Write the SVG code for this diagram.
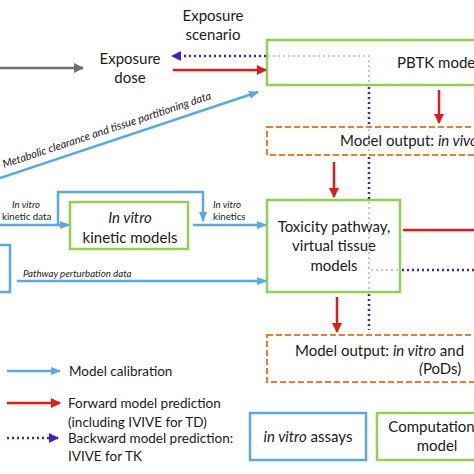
<svg xmlns="http://www.w3.org/2000/svg" width="474" height="474" viewBox="0 0 474 474">
<defs>
<style>
text{font-family:Lato,"Liberation Sans",sans-serif;fill:#1a1a1a}
.t{font-size:15px}
.s{font-size:9.7px;font-style:italic}
.l{font-size:13.5px}
.i{font-style:italic}
.g{fill:#fff;stroke:#92d050;stroke-width:2.5}
.b{fill:#fff;stroke:#5ba8e4;stroke-width:2.5}
.o{fill:#fff;stroke:#ed7d31;stroke-width:2;stroke-dasharray:6 3}
.blu{stroke:#5ba8e4;stroke-width:2.5;fill:none}
.red{stroke:#e31a1c;stroke-width:2.5;fill:none}
.pur{stroke:#4020c8;stroke-width:2.5;fill:none;stroke-dasharray:2 3}
.lp{stroke:#cdbff0;stroke-width:2;fill:none;stroke-dasharray:2 3}
.gry{stroke:#6e6e6e;stroke-width:2.5;fill:none}
</style>
<marker id="ab" markerUnits="userSpaceOnUse" markerWidth="10" markerHeight="8" refX="9" refY="4" orient="auto"><path d="M0,0 L10,4 L0,8 z" fill="#5ba8e4"/></marker>
<marker id="ar" markerUnits="userSpaceOnUse" markerWidth="10" markerHeight="10" refX="9" refY="5" orient="auto"><path d="M0,0 L10,5 L0,10 z" fill="#e31a1c"/></marker>
<marker id="ap" markerUnits="userSpaceOnUse" markerWidth="10" markerHeight="10" refX="9" refY="5" orient="auto"><path d="M0,0 L10,5 L0,10 z" fill="#4020c8"/></marker>
<marker id="ag" markerUnits="userSpaceOnUse" markerWidth="10" markerHeight="10" refX="9" refY="5" orient="auto"><path d="M0,0 L10,5 L0,10 z" fill="#6e6e6e"/></marker>
</defs>

<g id="pbtk"><rect class="g" x="267" y="40" width="220" height="45"/><text class="t" x="397" y="68">PBTK model</text></g>
<g id="output1"><rect class="o" x="267" y="127" width="220" height="28"/><text class="t" x="340" y="146">Model output: <tspan class="i">in vivo</tspan></text></g>
<g id="toxicity"><rect class="g" x="267" y="200" width="133" height="92"/>
<text class="t" x="334" y="232" text-anchor="middle">Toxicity pathway,</text>
<text class="t" x="334" y="251" text-anchor="middle">virtual tissue</text>
<text class="t" x="334" y="271" text-anchor="middle">models</text></g>
<g id="output2"><rect class="o" x="267" y="335" width="220" height="47"/><text class="t" x="295" y="356">Model output: <tspan class="i">in vitro</tspan> and</text><text class="t" x="419" y="374"><tspan class="i">(</tspan>PoDs)</text></g>
<g id="ivkm"><rect class="g" x="70" y="202" width="118" height="47"/>
<text class="t i" x="130" y="223" text-anchor="middle">In vitro</text>
<text class="t" x="130" y="243" text-anchor="middle">kinetic models</text></g>
<g id="assays-left"><path class="blu" d="M-2,245 H10 V292 H-2"/></g>
<g id="exposure-scenario"><text class="t" x="213" y="21" text-anchor="middle">Exposure</text><text class="t" x="213" y="40" text-anchor="middle">scenario</text></g>
<g id="exposure-dose"><text class="t" x="130" y="64" text-anchor="middle">Exposure</text><text class="t" x="130" y="83" text-anchor="middle">dose</text></g>

<g id="connectors">
<line class="gry" x1="0" y1="68" x2="83" y2="68" marker-end="url(#ag)"/>
<line class="red" x1="173" y1="70" x2="266" y2="70" marker-end="url(#ar)"/>
<line class="pur" x1="266" y1="56" x2="172" y2="56" marker-end="url(#ap)"/>
<path class="lp" d="M268,56 H369 V84"/>
<line class="pur" x1="369" y1="87" x2="369" y2="126"/>
<line class="lp" x1="369" y1="129" x2="369" y2="154"/>
<line class="pur" x1="369" y1="157" x2="369" y2="199"/>
<line class="lp" x1="369" y1="202" x2="369" y2="291"/>
<line class="pur" x1="369" y1="294" x2="369" y2="330"/>
<line class="lp" x1="371" y1="270" x2="399" y2="270"/>
<line class="pur" x1="402" y1="270" x2="476" y2="270"/>
<line class="blu" x1="0" y1="178" x2="258" y2="92" marker-end="url(#ab)"/>
<text class="s" transform="translate(4,168) rotate(-18.4)" style="font-size:11px">Metabolic clearance and tissue partitioning data</text>
<line class="red" x1="439" y1="90" x2="439" y2="123" marker-end="url(#ar)"/>
<line class="red" x1="334" y1="162" x2="334" y2="197" marker-end="url(#ar)"/>
<line class="red" x1="403" y1="230" x2="476" y2="230"/>
<line class="red" x1="337" y1="297" x2="337" y2="332" marker-end="url(#ar)"/>
<line class="blu" x1="0" y1="225" x2="69" y2="225" marker-end="url(#ab)"/>
<path class="blu" d="M58,224 V192 H203 V221" marker-end="url(#ab)"/>
<line class="blu" x1="193" y1="225" x2="266" y2="225" marker-end="url(#ab)"/>
<line class="blu" x1="17" y1="281" x2="266" y2="281" marker-end="url(#ab)"/>
<text class="s" x="12" y="208">In vitro</text>
<text class="s" style="font-style:normal" x="2" y="220">kinetic data</text>
<text class="s" x="213" y="208">In vitro</text>
<text class="s" style="font-style:normal" x="213" y="220">kinetics</text>
<text class="s" x="23" y="277">Pathway perturbation data</text>
</g>

<g id="legend">
<line class="blu" x1="7" y1="371" x2="60" y2="371" marker-end="url(#ab)"/>
<text class="l" x="69" y="376">Model calibration</text>
<line class="red" x1="7" y1="403" x2="60" y2="403" marker-end="url(#ar)"/>
<text class="l" x="68" y="408">Forward model prediction</text>
<text class="l" x="68" y="427">(including IVIVE for TD)</text>
<line class="pur" x1="7" y1="438" x2="58" y2="438" marker-end="url(#ap)"/>
<text class="l" x="68" y="443">Backward model prediction:</text>
<text class="l" x="68" y="461">IVIVE for TK</text>
<g id="legend-assays"><rect class="b" x="250" y="413" width="116" height="47"/><text class="t" x="308" y="442" text-anchor="middle"><tspan class="i">in vitro</tspan> assays</text></g>
<g id="legend-computational"><rect class="g" x="377" y="413" width="120" height="47"/><text class="t" x="437" y="432" text-anchor="middle">Computational</text><text class="t" x="437" y="451" text-anchor="middle">model</text></g>
</g>
</svg>
